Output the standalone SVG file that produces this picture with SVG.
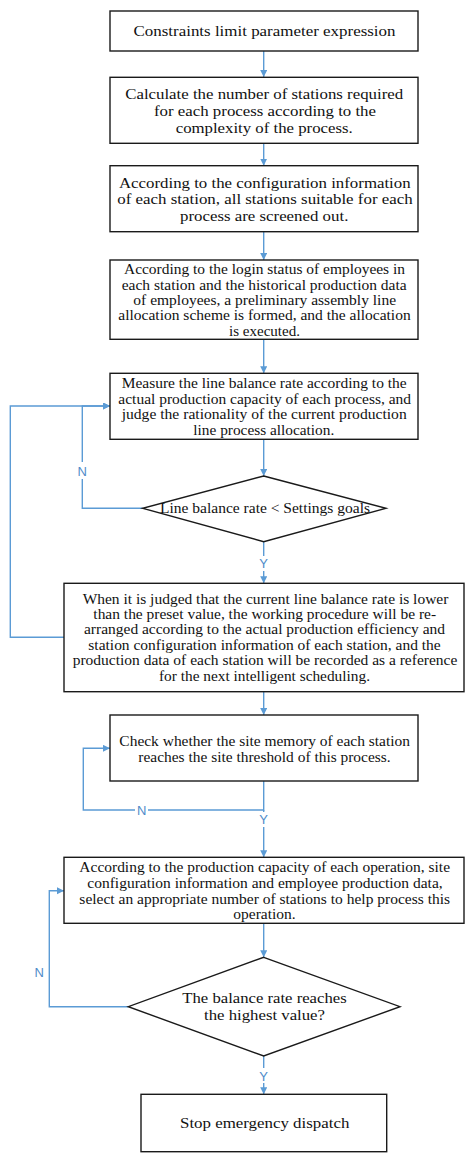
<svg xmlns="http://www.w3.org/2000/svg" width="474" height="1160" viewBox="0 0 474 1160">
<style>
.box{fill:#fff;stroke:#1a1a1a;stroke-width:1.4}
.t{font-family:'Liberation Serif','Times New Roman','DejaVu Serif',serif;font-size:14.5px;fill:#111;text-anchor:middle}
.t15{font-size:15px}
.c{fill:none;stroke:#5B9BD5;stroke-width:1.4}
.lbl{font-family:'Liberation Sans',Arial,sans-serif;font-size:13px;fill:#4F8BC9;text-anchor:middle}
.bg{fill:#fff}
</style>
<defs>
<marker id="ah" markerUnits="userSpaceOnUse" markerWidth="8" markerHeight="8" refX="7" refY="3.5" orient="auto">
<path d="M0,0 L7,3.5 L0,7 z" fill="#5B9BD5"/>
</marker>
</defs>
<g id="connectors">
<path class="c" d="M263.7,51 V77" marker-end="url(#ah)"/>
<path class="c" d="M263.7,143.3 V165.7" marker-end="url(#ah)"/>
<path class="c" d="M263.7,231.7 V260" marker-end="url(#ah)"/>
<path class="c" d="M263.7,339.3 V373.3" marker-end="url(#ah)"/>
<path class="c" d="M263.7,439.3 V476" marker-end="url(#ah)"/>
<path class="c" d="M142.7,508.3 H82.3 V406 H110" marker-end="url(#ah)"/>
<path class="c" d="M64,637.3 H10.3 V406 H110" marker-end="url(#ah)"/>
<path class="c" d="M263.7,541.7 V583.3" marker-end="url(#ah)"/>
<path class="c" d="M263.7,691.7 V715" marker-end="url(#ah)"/>
<path class="c" d="M263.7,781 V810 H83.3 V748.3 H110" marker-end="url(#ah)"/>
<path class="c" d="M263.7,810 V857.3" marker-end="url(#ah)"/>
<path class="c" d="M263.7,923.3 V957.3" marker-end="url(#ah)"/>
<path class="c" d="M128.3,1006.7 H49.3 V890.7 H64" marker-end="url(#ah)"/>
<path class="c" d="M263.7,1056 V1094.3" marker-end="url(#ah)"/>
<rect class="bg" x="76" y="462" width="13" height="17"/>
<text class="lbl" x="82.3" y="475.5">N</text>
<rect class="bg" x="257" y="556" width="13" height="15"/>
<text class="lbl" x="263.7" y="568">Y</text>
<rect class="bg" x="135" y="803" width="13" height="14"/>
<text class="lbl" x="141.7" y="814.7">N</text>
<rect class="bg" x="257" y="812" width="13" height="15"/>
<text class="lbl" x="263.7" y="824">Y</text>
<text class="lbl" x="39.3" y="977">N</text>
<rect class="bg" x="257" y="1068" width="13" height="15"/>
<text class="lbl" x="263.7" y="1080.5">Y</text>
</g>
<g id="n1">
<rect class="box" x="110" y="11" width="308" height="40"/>
<text class="t t15" x="264.5" y="36" textLength="262" lengthAdjust="spacingAndGlyphs">Constraints limit parameter expression</text>
</g>
<g id="n2">
<rect class="box" x="110" y="77.3" width="308" height="66"/>
<text class="t t15" x="264.2" y="99.3" textLength="278" lengthAdjust="spacingAndGlyphs">Calculate the number of stations required</text>
<text class="t t15" x="265" y="116" textLength="222" lengthAdjust="spacingAndGlyphs">for each process according to the</text>
<text class="t t15" x="264.2" y="132.7" textLength="177" lengthAdjust="spacingAndGlyphs">complexity of the process.</text>
</g>
<g id="n3">
<rect class="box" x="110" y="165.7" width="308" height="66"/>
<text class="t t15" x="264.8" y="187.7" textLength="291.7" lengthAdjust="spacingAndGlyphs">According to the configuration information</text>
<text class="t t15" x="265" y="204.3" textLength="295.3" lengthAdjust="spacingAndGlyphs">of each station, all stations suitable for each</text>
<text class="t t15" x="264.2" y="221" textLength="168.3" lengthAdjust="spacingAndGlyphs">process are screened out.</text>
</g>
<g id="n4">
<rect class="box" x="110" y="260" width="308" height="79.3"/>
<text class="t" x="264.5" y="274" textLength="281" lengthAdjust="spacingAndGlyphs">According to the login status of employees in</text>
<text class="t" x="264.2" y="289.7" textLength="285" lengthAdjust="spacingAndGlyphs">each station and the historical production data</text>
<text class="t" x="264.7" y="305" textLength="262.7" lengthAdjust="spacingAndGlyphs">of employees, a preliminary assembly line</text>
<text class="t" x="264.5" y="320.3" textLength="292.3" lengthAdjust="spacingAndGlyphs">allocation scheme is formed, and the allocation</text>
<text class="t" x="264.5" y="335.5" textLength="71" lengthAdjust="spacingAndGlyphs">is executed.</text>
</g>
<g id="n5">
<rect class="box" x="110" y="373.3" width="308" height="66"/>
<text class="t" x="264.2" y="388.3" textLength="285" lengthAdjust="spacingAndGlyphs">Measure the line balance rate according to the</text>
<text class="t" x="264.7" y="404" textLength="292.7" lengthAdjust="spacingAndGlyphs">actual production capacity of each process, and</text>
<text class="t" x="264.2" y="419.3" textLength="285" lengthAdjust="spacingAndGlyphs">judge the rationality of the current production</text>
<text class="t" x="263.8" y="435" textLength="141" lengthAdjust="spacingAndGlyphs">line process allocation.</text>
</g>
<g id="d1">
<polygon class="box" points="263.7,476 386,508.3 263.7,541.7 142.7,508.3"/>
<text class="t" x="265" y="513.3" textLength="210" lengthAdjust="spacingAndGlyphs">Line balance rate &lt; Settings goals</text>
</g>
<g id="n6">
<rect class="box" x="64" y="583.3" width="400" height="108.4"/>
<text class="t" x="265.5" y="604" textLength="365.7" lengthAdjust="spacingAndGlyphs">When it is judged that the current line balance rate is lower</text>
<text class="t" x="264.7" y="619" textLength="342.7" lengthAdjust="spacingAndGlyphs">than the preset value, the working procedure will be re-</text>
<text class="t" x="264.5" y="634.3" textLength="361" lengthAdjust="spacingAndGlyphs">arranged according to the actual production efficiency and</text>
<text class="t" x="264.5" y="650" textLength="352.3" lengthAdjust="spacingAndGlyphs">station configuration information of each station, and the</text>
<text class="t" x="265" y="665" textLength="384.7" lengthAdjust="spacingAndGlyphs">production data of each station will be recorded as a reference</text>
<text class="t" x="264.5" y="680.7" textLength="211" lengthAdjust="spacingAndGlyphs">for the next intelligent scheduling.</text>
</g>
<g id="n7">
<rect class="box" x="110" y="715" width="308" height="66"/>
<text class="t" x="264.7" y="745.7" textLength="290.7" lengthAdjust="spacingAndGlyphs">Check whether the site memory of each station</text>
<text class="t" x="264.5" y="761.7" textLength="252.3" lengthAdjust="spacingAndGlyphs">reaches the site threshold of this process.</text>
</g>
<g id="n8">
<rect class="box" x="64" y="857.3" width="400" height="66"/>
<text class="t" x="264.7" y="872.3" textLength="370.7" lengthAdjust="spacingAndGlyphs">According to the production capacity of each operation, site</text>
<text class="t" x="265" y="888" textLength="355.3" lengthAdjust="spacingAndGlyphs">configuration information and employee production data,</text>
<text class="t" x="264.7" y="903.7" textLength="370.7" lengthAdjust="spacingAndGlyphs">select an appropriate number of stations to help process this</text>
<text class="t" x="264.5" y="919" textLength="62.3" lengthAdjust="spacingAndGlyphs">operation.</text>
</g>
<g id="d2">
<polygon class="box" points="263.7,957.3 400,1006.7 263.7,1056 128.3,1006.7"/>
<text class="t t15" x="264.5" y="1003.3" textLength="164.3" lengthAdjust="spacingAndGlyphs">The balance rate reaches</text>
<text class="t t15" x="264.5" y="1020" textLength="121" lengthAdjust="spacingAndGlyphs">the highest value?</text>
</g>
<g id="n9">
<rect class="box" x="141" y="1094.3" width="245.7" height="57.4"/>
<text class="t t15" x="264.7" y="1128.3" textLength="169.3" lengthAdjust="spacingAndGlyphs">Stop emergency dispatch</text>
</g>
</svg>
